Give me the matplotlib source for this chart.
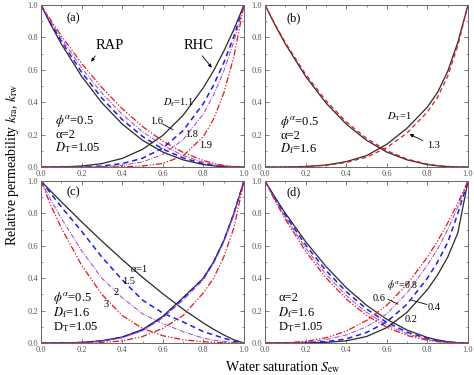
import numpy as np
import matplotlib
matplotlib.use("Agg")
import matplotlib.pyplot as plt
from matplotlib.ticker import MultipleLocator

plt.rcParams['font.family'] = ['Liberation Serif', 'DejaVu Serif']
plt.rcParams['mathtext.fontset'] = 'stix'

# water saturation grid (read points)
sw = [0, 0.05, 0.1, 0.2, 0.3, 0.4, 0.5, 0.6, 0.7, 0.8, 0.85, 0.9, 0.95, 1.0]

# (a) Df = 1.1, 1.6, 1.8, 1.9
a_rap = [
    [1, 0.875, 0.76, 0.56, 0.396, 0.265, 0.165, 0.092, 0.044, 0.015, 0.007, 0.0025, 0.0004, 0],
    [1, 0.884, 0.777, 0.585, 0.425, 0.293, 0.189, 0.111, 0.056, 0.021, 0.010, 0.004, 0.001, 0],
    [1, 0.893, 0.793, 0.612, 0.456, 0.325, 0.218, 0.133, 0.071, 0.029, 0.015, 0.006, 0.001, 0],
    [1, 0.903, 0.81, 0.64, 0.49, 0.36, 0.25, 0.16, 0.09, 0.04, 0.022, 0.01, 0.0025, 0],
]
a_rhc = [
    [0, 0, 0.0006, 0.006, 0.021, 0.053, 0.109, 0.195, 0.319, 0.49, 0.594, 0.714, 0.849, 1],
    [0, 0, 0, 0.001, 0.006, 0.021, 0.054, 0.117, 0.224, 0.392, 0.505, 0.642, 0.806, 1],
    [0, 0, 0, 0, 0.002, 0.010, 0.031, 0.078, 0.168, 0.328, 0.444, 0.59, 0.774, 1],
    [0, 0, 0, 0, 0, 0.001, 0.006, 0.022, 0.069, 0.188, 0.296, 0.454, 0.681, 1],
]

# (b) DT = 1, 1.3
b_rap = [
    [1, 0.875, 0.76, 0.56, 0.396, 0.265, 0.165, 0.092, 0.044, 0.015, 0.007, 0.0025, 0.0004, 0],
    [1, 0.88, 0.768, 0.572, 0.41, 0.279, 0.177, 0.101, 0.049, 0.018, 0.009, 0.003, 0.0006, 0],
]
b_rhc = [
    [0, 0, 0.0002, 0.003, 0.012, 0.033, 0.07, 0.14, 0.24, 0.37, 0.46, 0.59, 0.77, 1],
    [0, 0, 0.0001, 0.002, 0.010, 0.028, 0.06, 0.12, 0.21, 0.34, 0.43, 0.56, 0.75, 1],
]

# (c) alpha = 1, 1.5, 2, 3
c_rap = [
    [1, 0.935, 0.872, 0.748, 0.629, 0.515, 0.406, 0.304, 0.209, 0.123, 0.085, 0.05, 0.02, 0],
    [1, 0.92, 0.84, 0.69, 0.53, 0.39, 0.265, 0.185, 0.13, 0.07, 0.05, 0.03, 0.012, 0],
    [1, 0.88, 0.77, 0.57, 0.40, 0.28, 0.18, 0.12, 0.07, 0.03, 0.018, 0.01, 0.004, 0],
    [1, 0.845, 0.71, 0.48, 0.30, 0.17, 0.09, 0.045, 0.02, 0.008, 0.004, 0.002, 0, 0],
]
c_rhc = [
    [0, 0, 0.0004, 0.004, 0.014, 0.037, 0.083, 0.165, 0.28, 0.40, 0.50, 0.63, 0.80, 1],
    [0, 0, 0.0003, 0.003, 0.012, 0.035, 0.08, 0.16, 0.275, 0.40, 0.50, 0.63, 0.80, 1],
    [0, 0, 0.0002, 0.003, 0.011, 0.032, 0.075, 0.155, 0.265, 0.39, 0.49, 0.62, 0.79, 1],
    [0, 0, 0, 0.001, 0.003, 0.013, 0.04, 0.09, 0.17, 0.31, 0.40, 0.53, 0.71, 1],
]

# (d) phi = 0.2, 0.4, 0.6, 0.8
d_rap = [
    [1, 0.898, 0.801, 0.626, 0.473, 0.342, 0.233, 0.146, 0.08, 0.034, 0.019, 0.008, 0.002, 0],
    [1, 0.891, 0.789, 0.605, 0.448, 0.317, 0.21, 0.127, 0.067, 0.027, 0.014, 0.006, 0.001, 0],
    [1, 0.884, 0.777, 0.585, 0.425, 0.293, 0.189, 0.111, 0.056, 0.021, 0.010, 0.004, 0.001, 0],
    [1, 0.877, 0.764, 0.566, 0.403, 0.272, 0.171, 0.097, 0.046, 0.017, 0.008, 0.003, 0.0005, 0],
]
d_rhc = [
    [0, 0, 0, 0.001, 0.004, 0.013, 0.04, 0.095, 0.19, 0.33, 0.42, 0.53, 0.68, 1],
    [0, 0, 0, 0.002, 0.008, 0.025, 0.065, 0.13, 0.24, 0.40, 0.50, 0.62, 0.80, 1],
    [0, 0, 0.0005, 0.005, 0.02, 0.05, 0.10, 0.18, 0.31, 0.48, 0.58, 0.70, 0.84, 1],
    [0, 0.0002, 0.0014, 0.01, 0.032, 0.073, 0.139, 0.233, 0.362, 0.53, 0.629, 0.741, 0.864, 1],
]

# line styles: black solid, blue dashed, purple dash-dot, red dash-dot-dot
styles = [
    dict(color='#2a2a2a', lw=0.9, ls='-'),
    dict(color='#1c1cf0', lw=1.1, dashes=(3.5, 2.5)),
    dict(color='#a040c8', lw=0.7, dashes=(5, 1.5, 1, 1.5)),
    dict(color='#e8141c', lw=0.9, dashes=(5, 1.5, 1, 1.5, 1, 1.5)),
]
b_styles = [styles[0], dict(color='#e8141c', lw=0.9, dashes=(3.5, 2.5))]

fig = plt.figure(figsize=(4.74, 3.75), dpi=100)
W, H = 474.0, 375.0
def make_ax(x0, y0):
    # pixel box of the panel
    return fig.add_axes([x0 / W, 1 - (y0 + 162) / H, 203 / W, 162 / H])

ax_a = make_ax(41, 5)
ax_b = make_ax(265, 5)
ax_c = make_ax(41, 181)
ax_d = make_ax(265, 181)

for ax in [ax_a, ax_b, ax_c, ax_d]:
    ax.set_xlim(0, 1)
    ax.set_ylim(0, 1)
    ax.xaxis.set_major_locator(MultipleLocator(0.2))
    ax.xaxis.set_minor_locator(MultipleLocator(0.1))
    ax.yaxis.set_major_locator(MultipleLocator(0.2))
    ax.yaxis.set_minor_locator(MultipleLocator(0.1))
    ax.xaxis.set_major_formatter(plt.FormatStrFormatter('%.1f'))
    ax.yaxis.set_major_formatter(plt.FormatStrFormatter('%.1f'))
    ax.tick_params(which='both', direction='in', top=True, right=True,
                   color='#666666', labelsize=6, labelcolor='#555555', pad=2)
    ax.tick_params(which='major', length=3, width=0.6)
    ax.tick_params(which='minor', length=1.5, width=0.5)
    for sp in ax.spines.values():
        sp.set_color('#666666')
        sp.set_linewidth(0.7)

def draw(ax, raps, rhcs, st):
    for y, s in zip(raps, st):
        ax.plot(sw, y, **s)
    for y, s in zip(rhcs, st):
        ax.plot(sw, y, **s)

draw(ax_a, a_rap, a_rhc, styles)
draw(ax_b, b_rap, b_rhc, b_styles)
draw(ax_c, c_rap, c_rhc, styles)
draw(ax_d, d_rap, d_rhc, styles)

fs = 9
ls = 7.5
# panel (a)
ax_a.text(0.16, 0.92, '(a)', fontsize=9, ha='center', va='center')
ax_a.text(0.34, 0.75, 'RAP', fontsize=10.5, ha='center', va='center')
ax_a.text(0.775, 0.75, 'RHC', fontsize=10.5, ha='center', va='center')
ax_a.annotate('', xy=(0.24, 0.635), xytext=(0.275, 0.70),
              arrowprops=dict(arrowstyle='-|>', lw=0.6, color='k', mutation_scale=5))
ax_a.annotate('', xy=(0.85, 0.60), xytext=(0.785, 0.70),
              arrowprops=dict(arrowstyle='-|>', lw=0.6, color='k', mutation_scale=5))
ax_a.text(0.07, 0.285, r'$\phi^{\alpha}$=0.5', fontsize=fs, va='center')
ax_a.text(0.07, 0.20, 'α=2', fontsize=fs, va='center')
ax_a.text(0.07, 0.12, r'$D_{\rm T}$=1.05', fontsize=fs, va='center')
ax_a.text(0.60, 0.395, r'$D_{\rm f}$=1.1', fontsize=ls, va='center')
ax_a.text(0.54, 0.28, '1.6', fontsize=ls, va='center')
ax_a.plot([0.60, 0.65], [0.265, 0.23], color='k', lw=0.6)
ax_a.text(0.71, 0.20, '1.8', fontsize=ls, va='center')
ax_a.text(0.78, 0.135, '1.9', fontsize=ls, va='center')

# panel (b)
ax_b.text(0.14, 0.92, '(b)', fontsize=9, ha='center', va='center')
ax_b.text(0.074, 0.275, r'$\phi^{\alpha}$=0.5', fontsize=fs, va='center')
ax_b.text(0.074, 0.19, 'α=2', fontsize=fs, va='center')
ax_b.text(0.074, 0.115, r'$D_{\rm f}$=1.6', fontsize=fs, va='center')
ax_b.text(0.60, 0.31, r'$D_{\rm T}$=1', fontsize=ls, va='center')
ax_b.text(0.80, 0.135, '1.3', fontsize=ls, va='center')
ax_b.annotate('', xy=(0.70, 0.21), xytext=(0.79, 0.155),
              arrowprops=dict(arrowstyle='-|>', lw=0.6, color='k', mutation_scale=5))

# panel (c)
ax_c.text(0.16, 0.93, '(c)', fontsize=9, ha='center', va='center')
ax_c.text(0.06, 0.275, r'$\phi^{\alpha}$=0.5', fontsize=fs, va='center')
ax_c.text(0.06, 0.185, r'$D_{\rm f}$=1.6', fontsize=fs, va='center')
ax_c.text(0.06, 0.10, r'D$_{\rm T}$=1.05', fontsize=fs, va='center')
ax_c.text(0.44, 0.46, r'$\alpha$=1', fontsize=ls, va='center')
ax_c.text(0.40, 0.38, '1.5', fontsize=ls, va='center')
ax_c.text(0.355, 0.31, '2', fontsize=ls, va='center')
ax_c.text(0.31, 0.235, '3', fontsize=ls, va='center')

# panel (d)
ax_d.text(0.14, 0.93, '(d)', fontsize=9, ha='center', va='center')
ax_d.text(0.065, 0.275, 'α=2', fontsize=fs, va='center')
ax_d.text(0.065, 0.185, r'$D_{\rm f}$=1.6', fontsize=fs, va='center')
ax_d.text(0.065, 0.10, r'D$_{\rm T}$=1.05', fontsize=fs, va='center')
ax_d.text(0.60, 0.36, r'$\phi^{\alpha}$=0.8', fontsize=7, va='center')
ax_d.text(0.53, 0.275, '0.6', fontsize=ls, va='center')
ax_d.plot([0.605, 0.655], [0.27, 0.24], color='k', lw=0.6)
ax_d.text(0.80, 0.22, '0.4', fontsize=ls, va='center')
ax_d.plot([0.797, 0.723], [0.238, 0.264], color='k', lw=0.6)
ax_d.text(0.69, 0.145, '0.2', fontsize=ls, va='center')

fig.text(0.027, 0.56, r'Relative permeability $k_{\rm ra}$, $k_{\rm rw}$', rotation=90,
         fontsize=10, ha='center', va='center')
fig.text(0.597, 0.022, r'Water saturation $S_{\rm ew}$', fontsize=10, ha='center', va='center')

fig.savefig('out.png', dpi=100)
